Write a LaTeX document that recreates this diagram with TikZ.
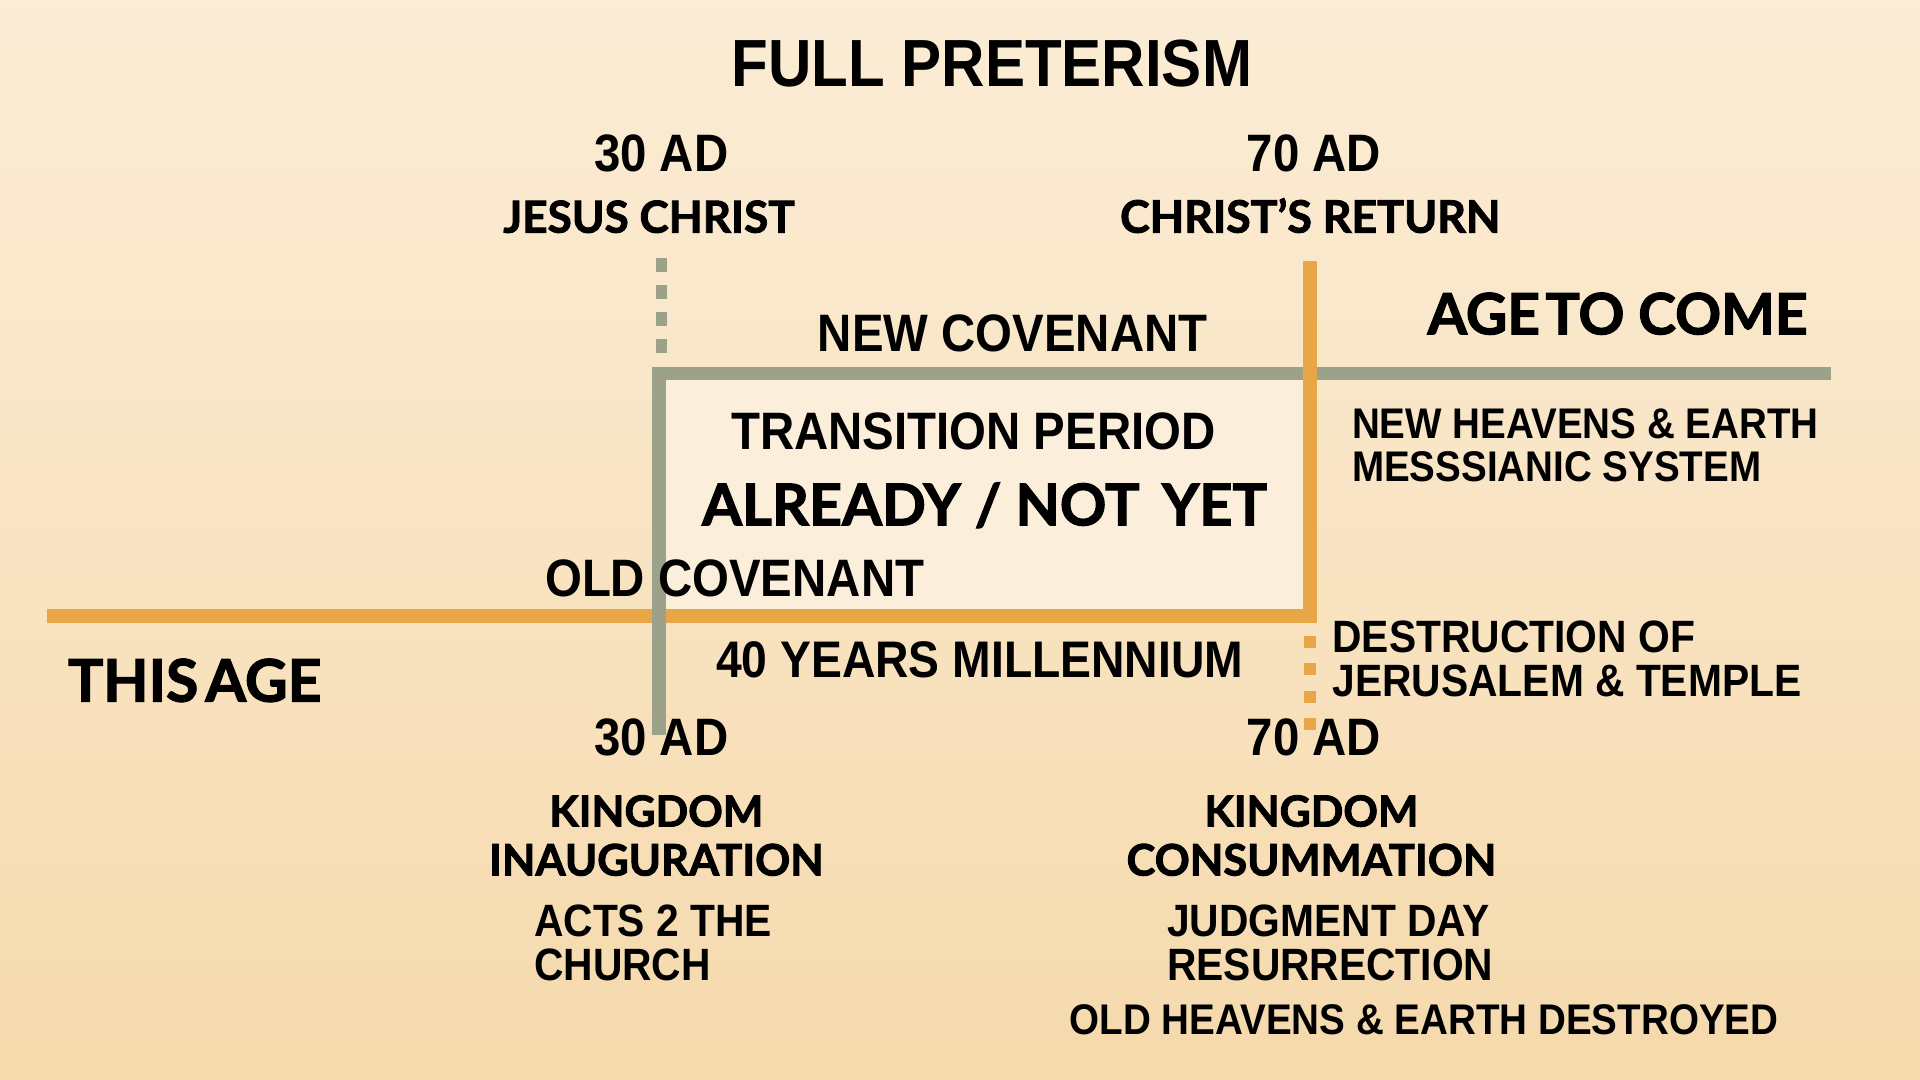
\documentclass[tikz,border=0pt]{standalone}
\usepackage{fontspec}
\setmainfont{Liberation Sans}
\newfontfamily\hv[FakeStretch=0.9]{Liberation Sans Bold}
\newfontfamily\gill[FakeBold=2]{Lato Bold}
\definecolor{bgtop}{RGB}{252,243,230}
\definecolor{bgmidA}{RGB}{249,230,199}
\definecolor{bgmid}{RGB}{245,215,168}
\definecolor{bgbot}{RGB}{247,225,188}
\definecolor{boxfill}{RGB}{251,238,218}
\definecolor{sage}{RGB}{156,161,138}
\definecolor{amber}{RGB}{233,166,70}
\pgfdeclareverticalshading{bgsh}{100bp}{color(0bp)=(bgbot); color(20bp)=(bgmid); color(55bp)=(bgmidA); color(100bp)=(bgtop)}
\tikzset{
  hvtxt/.style={inner sep=0pt, anchor=base, font=\hv\fontsize{#1}{#1}\selectfont},
  hvleft/.style={inner sep=0pt, anchor=base west, font=\hv\fontsize{#1}{#1}\selectfont},
  gilltxt/.style={inner sep=0pt, anchor=base, font=\gill\fontsize{#1}{#1}\selectfont},
  thick line/.style={line width=11pt, line cap=butt},
}
\begin{document}
\begin{tikzpicture}[x=1pt,y=-1pt]
\useasboundingbox (0,0) rectangle (1568,882);
\fill[shading=bgsh] (0,0) rectangle (1568,882);
% inner box
\fill[boxfill] (538,305) rectangle (1070,503);
% dotted markers
\coordinate (gTop) at (540,211);
\coordinate (gBot) at (540,289);
\coordinate (oTop) at (1070,519);
\coordinate (oBot) at (1070,597);
\draw[sage, line width=9pt, dash pattern=on 11pt off 11pt] (gTop) -- (gBot);
\draw[amber, line width=10pt, dash pattern=on 10pt off 12.5pt] (oTop) -- (oBot);
% lines
\coordinate (thisStart) at (38,503);
\coordinate (thisEnd) at (1075.5,503);
\coordinate (newEnd) at (1495,305);
\coordinate (corner) at (538,305);
\coordinate (gvEnd) at (538,600);
\coordinate (ovTop) at (1070,213);
\coordinate (ovBot) at (1070,508.5);
\draw[amber, thick line] (thisStart) -- (thisEnd);
\draw[sage, thick line, line join=miter] (newEnd) -- (corner) -- (gvEnd);
\draw[amber, thick line] (ovBot) -- (ovTop);
% texts
\node[hvtxt=54.5] (title) at (810,71) {FULL PRETERISM};
\node[hvtxt=43] (ad30t) at (540,140) {30 AD};
\node[hvtxt=43] (ad70t) at (1073,140) {70 AD};
\node[gilltxt=36] (jesus) at (530,190) {JESUS CHRIST};
\node[gilltxt=36.5] (ret) at (1070,190) {CHRIST’S RETURN};
\node[hvtxt=43] (newcov) at (827,287) {NEW COVENANT};
\node[gilltxt=46.5] (agecome) at (1321,273) {AGE\hspace{0.1em}TO COME};
\node[hvtxt=43] (trans) at (795,367) {TRANSITION PERIOD};
\node[gilltxt=47] (already) at (804,429) {ALREADY / NOT\hspace{0.15em} YET};
\node[hvtxt=43] (oldcov) at (600,487) {OLD COVENANT};
\node[hvleft=35] (newheav) at (1104,358) {NEW HEAVENS \& EARTH};
\node[hvleft=35] (mess) at (1104,393) {MESSSIANIC SYSTEM};
\node[gilltxt=48] (thisage) at (159,573) {THIS\hspace{0.12em}AGE};
\node[hvtxt=42] (forty) at (800,553) {40 YEARS MILLENNIUM};
\node[hvleft=37] (destr) at (1088,533) {DESTRUCTION OF};
\node[hvleft=37] (jeru) at (1088,569) {JERUSALEM \& TEMPLE};
\node[hvtxt=43] (ad30b) at (540,617) {30 AD};
\node[hvtxt=43] (ad70b) at (1073,617) {70 AD};
\node[gilltxt=35] (king1) at (536,675) {KINGDOM};
\node[gilltxt=35.5] (inaug) at (536,715) {INAUGURATION};
\node[gilltxt=35] (king2) at (1071,675) {KINGDOM};
\node[gilltxt=35.5] (consum) at (1071,715) {CONSUMMATION};
\node[hvleft=37] (acts) at (436,765) {ACTS 2 THE};
\node[hvleft=37] (church) at (436,801) {CHURCH};
\node[hvleft=37] (judg) at (953,765) {JUDGMENT DAY};
\node[hvleft=37] (resur) at (953,801) {RESURRECTION};
\node[hvtxt=35] (oldheav) at (1163,845) {OLD HEAVENS \& EARTH DESTROYED};
\end{tikzpicture}
\end{document}
